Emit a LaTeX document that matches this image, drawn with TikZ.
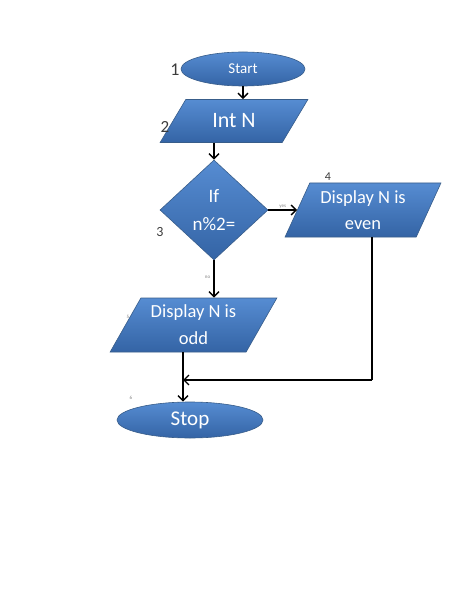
\documentclass[tikz,border=0pt]{standalone}
\usepackage{fontspec}
\setmainfont{Carlito}
\usetikzlibrary{shapes.geometric,arrows.meta}
\definecolor{boxtop}{RGB}{86,140,210}
\definecolor{boxbot}{RGB}{52,100,165}
\definecolor{boxline}{RGB}{56,93,138}
\definecolor{numgray}{RGB}{60,60,60}
\tikzset{
  blueshape/.style={top color=boxtop, bottom color=boxbot, draw=boxline, line width=0.6pt,
    text=white, inner sep=0pt, align=center},
  oval/.style={blueshape, ellipse},
  para/.style={blueshape, trapezium, trapezium stretches=true},
  decide/.style={blueshape, diamond},
  conn/.style={line width=1.6pt, -{Straight Barb[length=5pt,width=10pt,line width=1.4pt]}},
  plainline/.style={line width=1.6pt},
  numlab/.style={text=numgray, inner sep=0pt},
  tinylab/.style={text=gray, inner sep=0pt, font=\fontsize{5}{6}\selectfont}
}
\begin{document}
\begin{tikzpicture}[x=1pt,y=-1pt]
\useasboundingbox (0,0) rectangle (474,612);
\node[oval, minimum width=124pt, minimum height=34pt, font=\fontsize{15}{17}\selectfont] (start) at (243,69) {Start};
\node[para, trapezium left angle=51, trapezium right angle=129, minimum width=148pt, minimum height=43pt,
  font=\fontsize{22}{24}\selectfont] (intn) at (234,121) {Int N};
\node[decide, minimum width=108pt, minimum height=100pt, font=\fontsize{19}{28}\selectfont] (dia) at (214,210) {If\\n\%2=};
\node[para, trapezium left angle=63, trapezium right angle=117, minimum width=156pt, minimum height=54pt,
  font=\fontsize{18.5}{26}\selectfont] (even) at (363,210) {Display N is\\even};
\node[para, trapezium left angle=58, trapezium right angle=122, minimum width=167pt, minimum height=54pt,
  font=\fontsize{18.5}{27}\selectfont] (odd) at (193.5,325) {Display N is\\odd};
\node[oval, minimum width=146pt, minimum height=36pt, font=\fontsize{21}{24}\selectfont] (stop) at (190,420) {Stop};

\node[numlab, font=\fontsize{18}{20}\selectfont] (n1) at (175,70) {1};
\node[numlab, font=\fontsize{17}{20}\selectfont] (n2) at (165,127) {2};
\node[numlab, font=\fontsize{14}{16}\selectfont] (n3) at (160,232) {3};
\node[numlab, font=\fontsize{12}{14}\selectfont] (n4) at (328,177) {4};
\node[tinylab] (n5) at (128,317) {5};
\node[tinylab] (n6) at (131,398) {6};

\coordinate (j) at (183,380);
\coordinate (k) at (372,380);

\draw[conn] (start.south) -- (start.south |- intn.north);
\draw[conn] (dia.north |- intn.south) -- (dia.north);
\draw[conn] (dia.east) -- node[tinylab, above=1pt] {yes} (dia.east -| even.west);
\draw[conn] (dia.south) -- node[tinylab, pos=0.45, left=3pt] {no} (dia.south |- odd.north);
\draw[conn] (j |- odd.south) -- (j |- stop.north);
\draw[plainline] (k |- even.south) -- (k);
\draw[conn] (k) -- (j);
\end{tikzpicture}
\end{document}
